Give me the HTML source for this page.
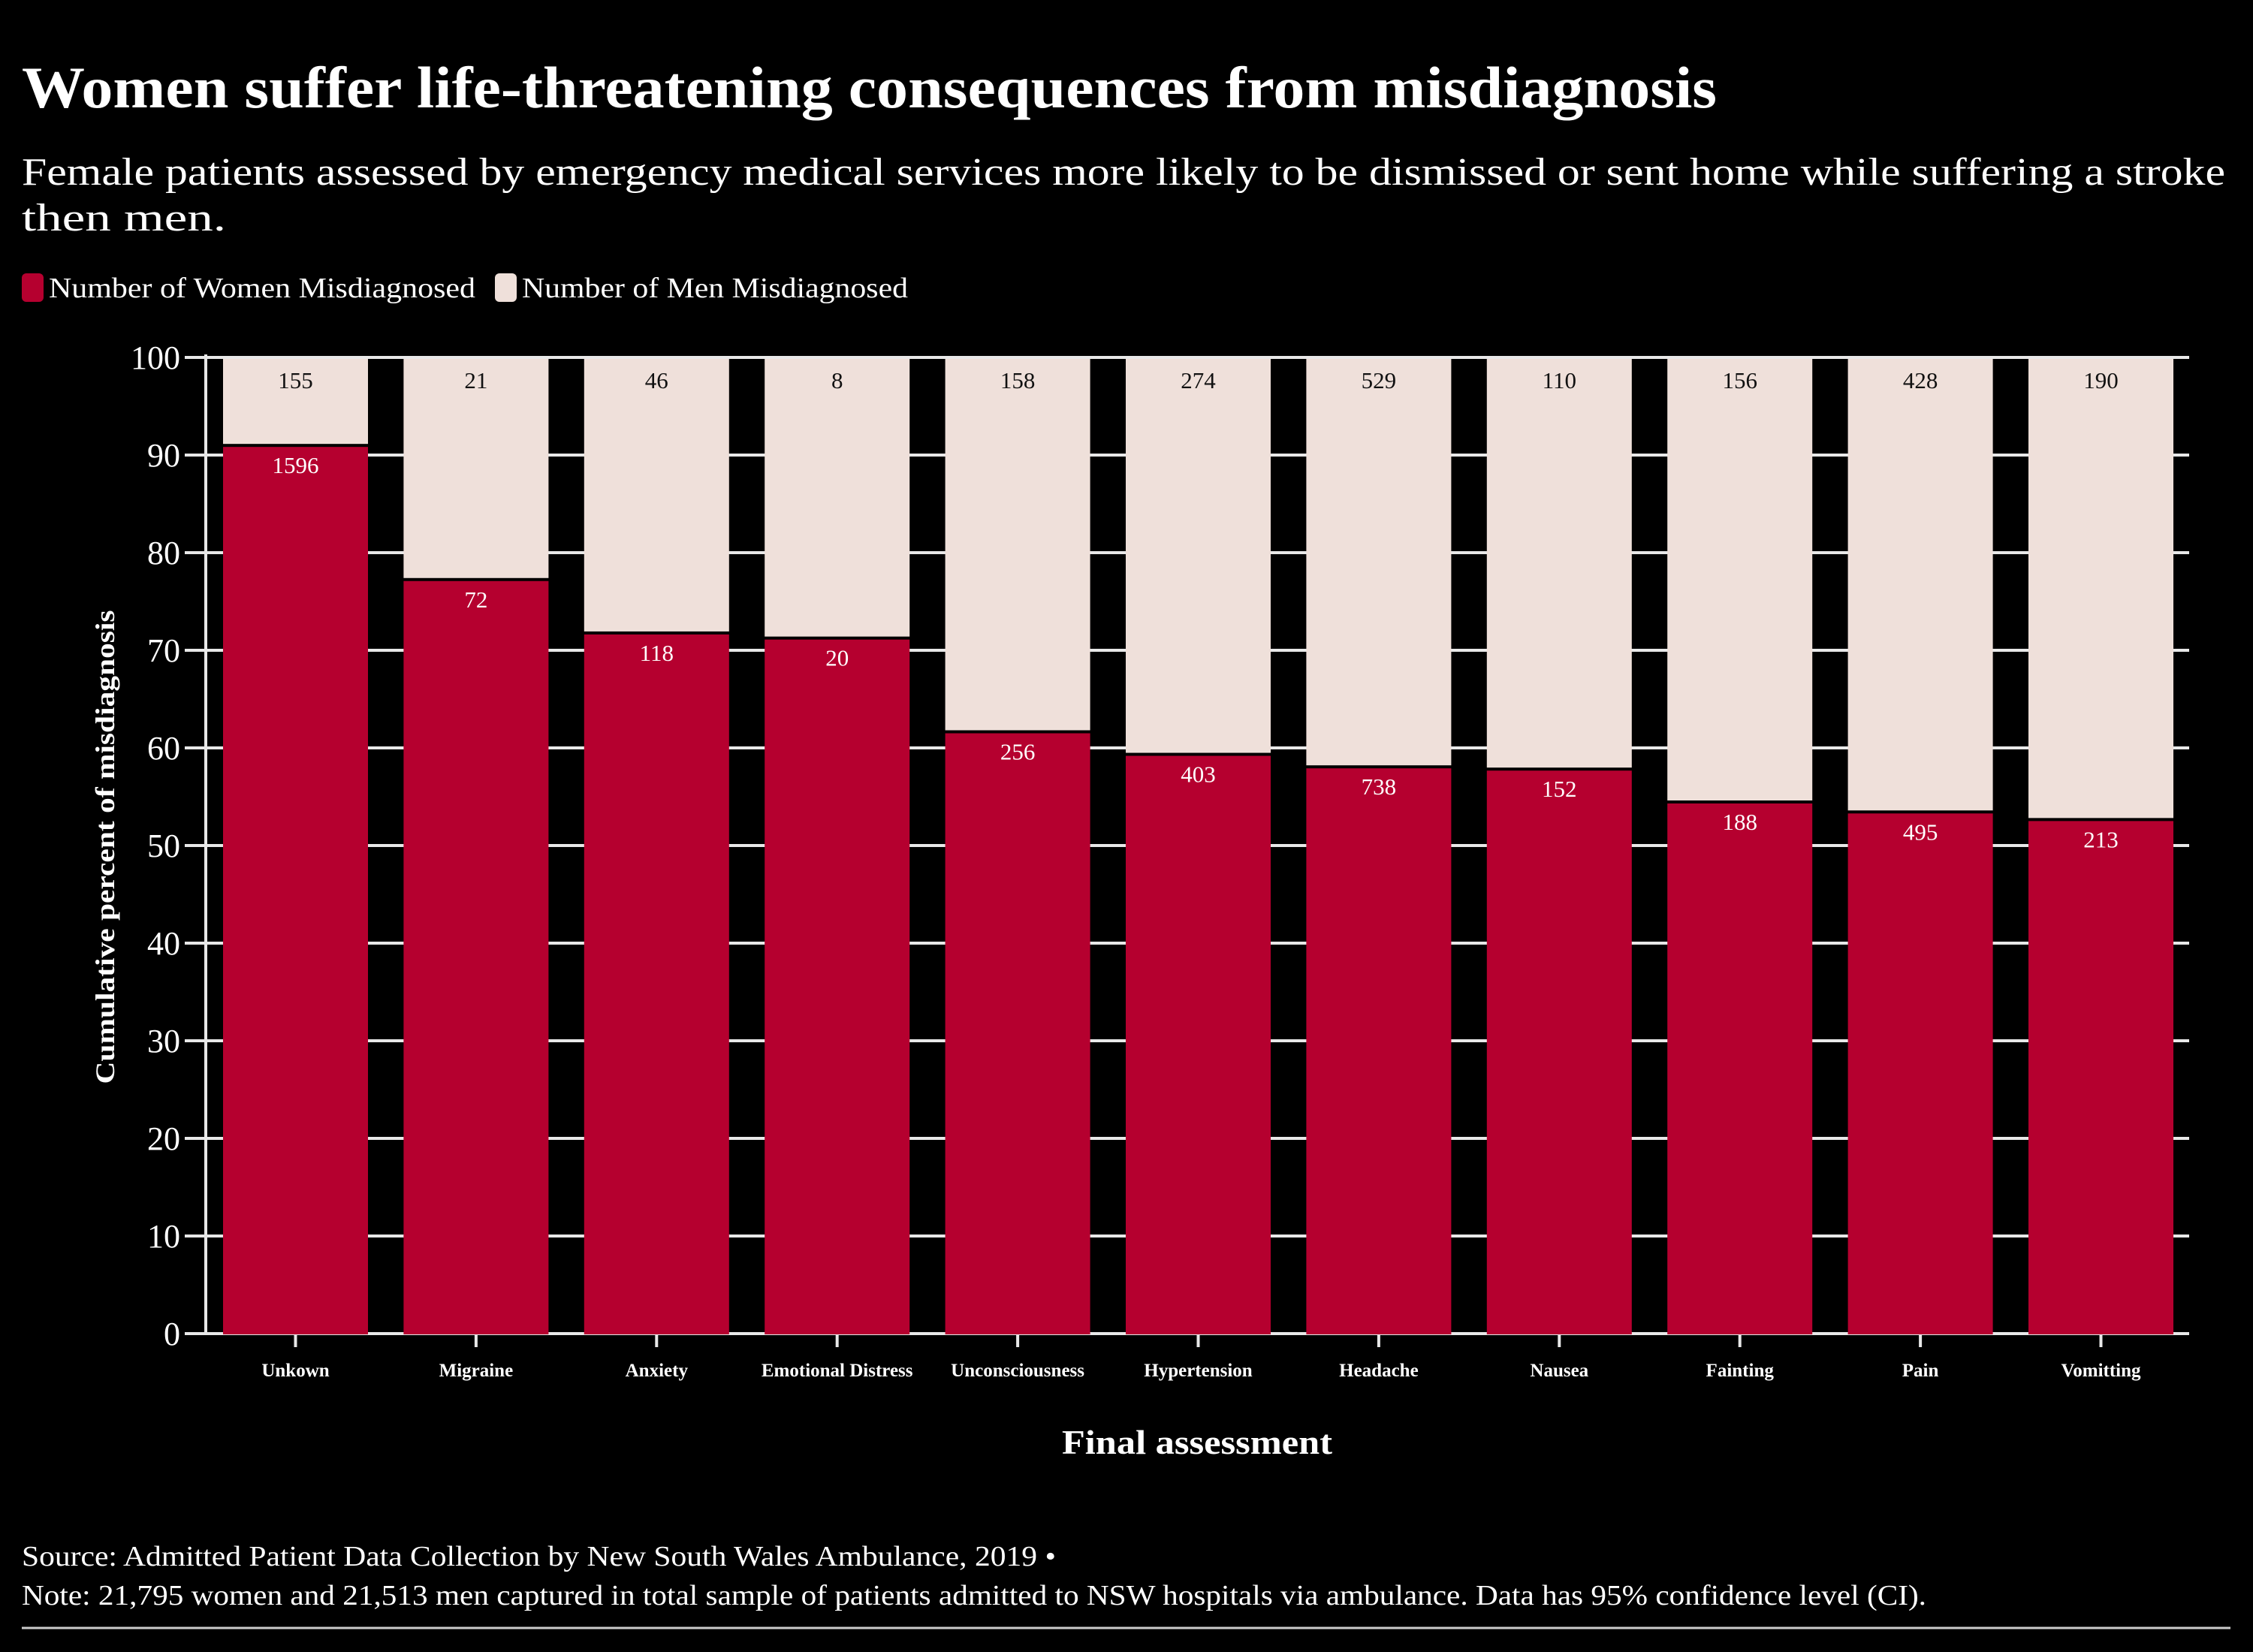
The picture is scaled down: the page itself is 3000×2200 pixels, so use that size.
<!DOCTYPE html>
<html><head><meta charset="utf-8"><style>
html,body{margin:0;padding:0;background:#000;}
svg{display:block;}
text{font-family:"Liberation Serif",serif;}
</style></head><body>
<svg width="3000" height="2200" viewBox="0 0 3000 2200" xmlns="http://www.w3.org/2000/svg">
<rect width="3000" height="2200" fill="#000"/>
<text x="29" y="143" font-size="78" font-weight="bold" fill="#fff" textLength="2257" lengthAdjust="spacingAndGlyphs">Women suffer life-threatening consequences from misdiagnosis</text>
<text x="29" y="246" font-size="52" fill="#fff" textLength="2934" lengthAdjust="spacingAndGlyphs">Female patients assessed by emergency medical services more likely to be dismissed or sent home while suffering a stroke</text>
<text x="29" y="307" font-size="52" fill="#fff" textLength="272" lengthAdjust="spacingAndGlyphs">then men.</text>
<rect x="29" y="364" width="29" height="38" rx="6" fill="#b5002f"/>
<text x="65" y="396" font-size="38" fill="#fff" textLength="568" lengthAdjust="spacingAndGlyphs">Number of Women Misdiagnosed</text>
<rect x="659" y="364" width="29" height="38" rx="6" fill="#efe0da"/>
<text x="695" y="396" font-size="38" fill="#fff" textLength="514" lengthAdjust="spacingAndGlyphs">Number of Men Misdiagnosed</text>
<g id="grid" stroke="#e8e8e8" stroke-width="4">
<line x1="246" y1="476" x2="2915" y2="476"/>
<line x1="246" y1="606" x2="2915" y2="606"/>
<line x1="246" y1="736" x2="2915" y2="736"/>
<line x1="246" y1="866" x2="2915" y2="866"/>
<line x1="246" y1="996" x2="2915" y2="996"/>
<line x1="246" y1="1126" x2="2915" y2="1126"/>
<line x1="246" y1="1256" x2="2915" y2="1256"/>
<line x1="246" y1="1386" x2="2915" y2="1386"/>
<line x1="246" y1="1516" x2="2915" y2="1516"/>
<line x1="246" y1="1646" x2="2915" y2="1646"/>
<line x1="246" y1="1776" x2="2915" y2="1776"/>
<line x1="274" y1="472" x2="274" y2="1778"/>
</g>
<g font-size="44" fill="#fff" text-anchor="end">
<text x="240" y="491">100</text><text x="240" y="621">90</text><text x="240" y="751">80</text>
<text x="240" y="881">70</text><text x="240" y="1011">60</text><text x="240" y="1141">50</text>
<text x="240" y="1271">40</text><text x="240" y="1401">30</text><text x="240" y="1531">20</text>
<text x="240" y="1661">10</text><text x="240" y="1791">0</text>
</g>
<g id="bars"></g>
<text transform="translate(152,1128) rotate(-90)" text-anchor="middle" font-size="36" font-weight="bold" fill="#fff" textLength="631" lengthAdjust="spacingAndGlyphs">Cumulative percent of misdiagnosis</text>
<text x="1594" y="1936" text-anchor="middle" font-size="46" font-weight="bold" fill="#fff" textLength="360" lengthAdjust="spacingAndGlyphs">Final assessment</text>
<text x="29" y="2085" font-size="38" fill="#fff" textLength="1377" lengthAdjust="spacingAndGlyphs">Source: Admitted Patient Data Collection by New South Wales Ambulance, 2019 •</text>
<text x="29" y="2137" font-size="38" fill="#fff" textLength="2536" lengthAdjust="spacingAndGlyphs">Note: 21,795 women and 21,513 men captured in total sample of patients admitted to NSW hospitals via ambulance. Data has 95% confidence level (CI).</text>
<line x1="29" y1="2168" x2="2970" y2="2168" stroke="#ccc" stroke-width="3"/>
<script>
var d=[["Unkown",1596,155],["Migraine",72,21],["Anxiety",118,46],["Emotional Distress",20,8],["Unconsciousness",256,158],["Hypertension",403,274],["Headache",738,529],["Nausea",152,110],["Fainting",188,156],["Pain",495,428],["Vomitting",213,190]];
var ns="http://www.w3.org/2000/svg",g=document.getElementById("bars");
function el(t,a,txt){var e=document.createElementNS(ns,t);for(var k in a)e.setAttribute(k,a[k]);if(txt)e.textContent=txt;return e;}
d.forEach(function(r,i){
 var x=297+i*240.4,w=193,cx=x+w/2,p=r[1]/(r[1]+r[2])*100,y=1777-p*13.01;
 g.appendChild(el("rect",{x:x,y:478,width:w,height:y-478,fill:"#efe0da"}));
 g.appendChild(el("rect",{x:x,y:y+4,width:w,height:1777-y-4,fill:"#b5002f"}));
 g.appendChild(el("text",{x:cx,y:517,"text-anchor":"middle","font-size":"31",fill:"#111"},String(r[2])));
 g.appendChild(el("text",{x:cx,y:y+39,"text-anchor":"middle","font-size":"31",fill:"#fff"},String(r[1])));
 g.appendChild(el("line",{x1:cx,y1:1778,x2:cx,y2:1794,stroke:"#e8e8e8","stroke-width":"4"}));
 g.appendChild(el("text",{x:cx,y:1833,"text-anchor":"middle","font-size":"25","font-weight":"bold",fill:"#fff"},r[0]));
});
</script>
</svg>
</body></html>
